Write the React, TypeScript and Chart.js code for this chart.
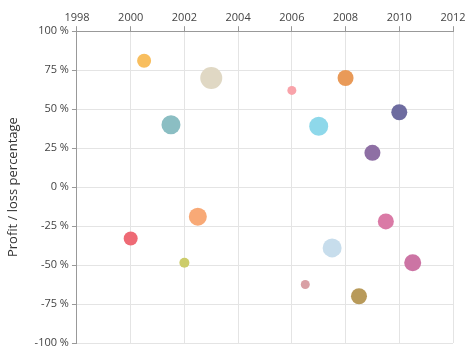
import React, { useEffect, useRef } from "react";
import { Chart, registerables } from "chart.js";

Chart.register(...registerables);

const years = [2000.5, 2003, 2006, 2008, 2010, 2001.5, 2007, 2009, 2002.5, 2009.5, 2000, 2007.5, 2002, 2010.5, 2006.5, 2008.5];
const values = [81, 70, 62, 70, 48, 40, 39, 22, -19, -22, -33, -39, -48.5, -48.5, -62.5, -70];
const radii = [7, 11, 4.5, 8, 8, 9.5, 9.5, 8, 9, 8, 7, 9.5, 5, 8.5, 4.5, 8];
const colors = [
  "#F8BE5E", "#E0D8C4", "#F9A3AA", "#E99A58", "#6E6CA0", "#8BBEC3", "#8ED8EA", "#8E6FA4",
  "#F8A976", "#DA7AA6", "#EE6A75", "#C7DDEC", "#CCCC6A", "#CC74A4", "#D9A0A5", "#B89A5A",
];
const xTicks = [1998, 2000, 2002, 2004, 2006, 2008, 2010, 2012];
const yTicks = [-100, -75, -50, -25, 0, 25, 50, 75, 100];
const yTitle = "Profit / loss percentage";

export default function App() {
  const ref = useRef<HTMLCanvasElement>(null);
  useEffect(() => {
    document.body.style.margin = "0";
    const ctx = ref.current!;
    const chart = new Chart(ctx, {
      type: "bubble",
      data: {
        datasets: [
          {
            data: years.map((x, i) => ({ x, y: values[i], r: radii[i] })),
            backgroundColor: colors,
            borderColor: colors,
            borderWidth: 0,
            hoverRadius: 0,
          },
        ],
      },
      options: {
        animation: false,
        responsive: false,
        devicePixelRatio: 1,
        layout: { padding: { top: 9, right: 21, bottom: 14, left: 5 } },
        plugins: { legend: { display: false }, tooltip: { enabled: false } },
        scales: {
          x: {
            type: "linear",
            position: "top",
            min: 1998,
            max: 2012,
            afterBuildTicks: (axis: any) => {
              axis.ticks = xTicks.map((v) => ({ value: v }));
            },
            ticks: {
              font: { family: "'Open Sans', sans-serif", size: 11 },
              color: "#444",
              padding: 2,
              maxRotation: 0,
              callback: (v: any) => String(v),
            },
            grid: { color: "#e4e4e4", tickColor: "#999", tickLength: 5, lineWidth: 1 },
            border: { color: "#999", width: 1 },
          },
          y: {
            type: "linear",
            min: -100,
            max: 100,
            afterBuildTicks: (axis: any) => {
              axis.ticks = yTicks.map((v) => ({ value: v }));
            },
            ticks: {
              font: { family: "'Open Sans', sans-serif", size: 11 },
              color: "#444",
              padding: 3,
              callback: (v: any) => v + " %",
            },
            grid: { color: "#e4e4e4", tickColor: "#999", tickLength: 5, lineWidth: 1 },
            border: { color: "#999", width: 1 },
            title: {
              display: true,
              text: yTitle,
              font: { family: "'Open Sans', sans-serif", size: 13 },
              color: "#333",
              padding: { top: 0, bottom: 11 },
            },
          },
        },
      },
    });
    return () => chart.destroy();
  }, []);
  return (
    <div style={{ width: 474, height: 357 }}>
      <canvas ref={ref} width={474} height={357} style={{ display: "block" }} />
    </div>
  );
}
